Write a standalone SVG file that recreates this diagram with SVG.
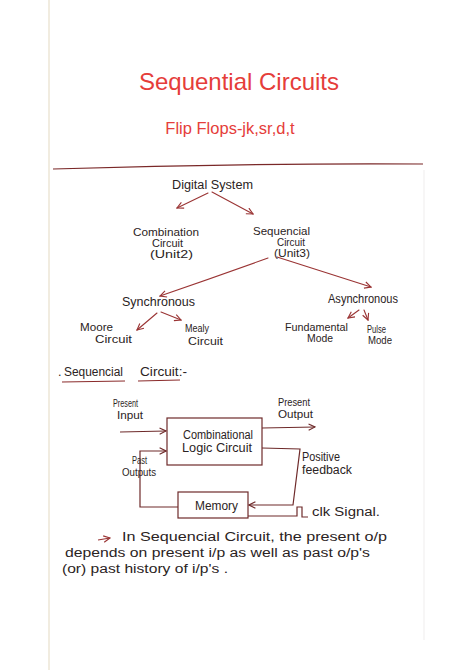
<svg xmlns="http://www.w3.org/2000/svg" width="474" height="670" viewBox="0 0 474 670">
<style>
.title{font-family:"Liberation Sans",Arial,sans-serif;fill:#e53d3a}
.hw{font-family:"Liberation Sans",Arial,sans-serif;font-size:12.5px;fill:#2b2323}
.hs{font-family:"Liberation Sans",Arial,sans-serif;font-size:10.5px;fill:#2b2323}
.ln{fill:none;stroke:#9a3434;stroke-width:1.1;stroke-linecap:round}
.bx{fill:none;stroke:#6e2a2a;stroke-width:1.2}
.ul{fill:none;stroke:#8a2a2a;stroke-width:1}
</style>
<defs>
<marker id="ah" viewBox="0 0 10 10" refX="9" refY="5" markerWidth="8" markerHeight="8" markerUnits="userSpaceOnUse" orient="auto">
<path d="M1,1 L9,5 L1,9" fill="none" stroke="#9a3434" stroke-width="1.4"/>
</marker>
<marker id="ab" viewBox="0 0 10 10" refX="9" refY="5" markerWidth="8" markerHeight="8" markerUnits="userSpaceOnUse" orient="auto">
<path d="M1,1 L9,5 L1,9" fill="none" stroke="#6e2a2a" stroke-width="1.4"/>
</marker>
</defs>
<rect width="474" height="670" fill="#ffffff"/>
<g id="page">
<line x1="49" y1="0" x2="49" y2="670" stroke="#e8e0cc" stroke-width="1.2"/>
<line x1="424" y1="170" x2="424" y2="640" stroke="#efeded" stroke-width="1"/>
<path d="M53,169 Q240,163 423,164" fill="none" stroke="#7a2828" stroke-width="1.2"/>
</g>
<g id="heading">
<text class="title" x="239" y="90" font-size="24" text-anchor="middle">Sequential Circuits</text>
<text class="title" x="230" y="134" font-size="16.5" text-anchor="middle">Flip Flops-jk,sr,d,t</text>
</g>
<g id="connectors">
<path class="ln" d="M208,193 L177,208" marker-end="url(#ah)"/>
<path class="ln" d="M212,192 L253,214" marker-end="url(#ah)"/>
<path class="ln" d="M268,258 Q215,277 160,296" marker-end="url(#ah)"/>
<path class="ln" d="M277,257 L371,287" marker-end="url(#ah)"/>
<path class="ln" d="M157,313 L137,330" marker-end="url(#ah)"/>
<path class="ln" d="M161,312 L181,320" marker-end="url(#ah)"/>
<path class="ln" d="M359,310 L348,318" marker-end="url(#ah)"/>
<path class="ln" d="M364,310 L368,320" marker-end="url(#ah)"/>
<path class="bx" d="M120,432 L166,431" marker-end="url(#ab)"/>
<path class="bx" d="M178,507 L140,507 L140,451 L166,451" marker-end="url(#ab)"/>
<path class="bx" d="M262,428 L315,427" marker-end="url(#ab)"/>
<path class="bx" d="M262,448 L300,449 L293,505 L249,505" marker-end="url(#ab)"/>
<path class="bx" d="M248,516 L289,516 L297,516 L297,507 L302,507 L302,517 L308,517"/>
</g>
<g id="n-digital"><text class="hw" x="172" y="189" textLength="81" lengthAdjust="spacingAndGlyphs">Digital System</text></g>
<g id="n-comb">
<text class="hs" x="133" y="236" textLength="66" lengthAdjust="spacingAndGlyphs">Combination</text>
<text class="hs" x="152" y="247" textLength="31" lengthAdjust="spacingAndGlyphs">Circuit</text>
<text class="hs" x="150" y="258" textLength="43" lengthAdjust="spacingAndGlyphs">(Unit2)</text>
</g>
<g id="n-seq">
<text class="hs" x="253" y="235" textLength="57" lengthAdjust="spacingAndGlyphs">Sequencial</text>
<text class="hs" x="277" y="246" textLength="28" lengthAdjust="spacingAndGlyphs">Circuit</text>
<text class="hs" x="274" y="257" textLength="36" lengthAdjust="spacingAndGlyphs">(Unit3)</text>
</g>
<g id="n-sync"><text class="hw" x="122" y="306" textLength="73" lengthAdjust="spacingAndGlyphs">Synchronous</text></g>
<g id="n-moore">
<text class="hs" x="80" y="331" textLength="33" lengthAdjust="spacingAndGlyphs">Moore</text>
<text class="hs" x="95" y="343" textLength="37" lengthAdjust="spacingAndGlyphs">Circuit</text>
</g>
<g id="n-mealy">
<text class="hs" x="185" y="332" textLength="24" lengthAdjust="spacingAndGlyphs">Mealy</text>
<text class="hs" x="188" y="345" textLength="35" lengthAdjust="spacingAndGlyphs">Circuit</text>
</g>
<g id="n-async"><text class="hw" x="328" y="303" textLength="70" lengthAdjust="spacingAndGlyphs">Asynchronous</text></g>
<g id="n-fund">
<text class="hs" x="285" y="331" textLength="63" lengthAdjust="spacingAndGlyphs">Fundamental</text>
<text class="hs" x="307" y="342" textLength="26" lengthAdjust="spacingAndGlyphs">Mode</text>
</g>
<g id="n-pulse">
<text class="hs" x="367" y="333" textLength="19" lengthAdjust="spacingAndGlyphs">Pulse</text>
<text class="hs" x="368" y="344" textLength="24" lengthAdjust="spacingAndGlyphs">Mode</text>
</g>
<g id="n-heading2">
<text class="hw" x="58" y="376">.</text>
<text class="hw" x="64" y="376" font-size="13.5" textLength="59" lengthAdjust="spacingAndGlyphs">Sequencial</text>
<text class="hw" x="140" y="376" font-size="13.5" textLength="47" lengthAdjust="spacingAndGlyphs">Circuit:-</text>
<path class="ul" d="M62,382 L125,381 M138,381 L180,380"/>
</g>
<g id="n-input">
<text class="hs" x="113" y="407" textLength="25" lengthAdjust="spacingAndGlyphs">Present</text>
<text class="hs" x="117" y="419" textLength="26" lengthAdjust="spacingAndGlyphs">Input</text>
</g>
<g id="n-cl">
<rect class="bx" x="167" y="418" width="95" height="47"/>
<text class="hw" x="183" y="439" textLength="70" lengthAdjust="spacingAndGlyphs">Combinational</text>
<text class="hw" x="182" y="452" textLength="70" lengthAdjust="spacingAndGlyphs">Logic  Circuit</text>
</g>
<g id="n-output">
<text class="hs" x="278" y="406" textLength="32" lengthAdjust="spacingAndGlyphs">Present</text>
<text class="hs" x="278" y="418" textLength="35" lengthAdjust="spacingAndGlyphs">Output</text>
</g>
<g id="n-past">
<text class="hs" x="132" y="464" textLength="15" lengthAdjust="spacingAndGlyphs">Past</text>
<text class="hs" x="122" y="476" textLength="34" lengthAdjust="spacingAndGlyphs">Outputs</text>
</g>
<g id="n-feedback">
<text class="hw" x="302" y="461" textLength="38" lengthAdjust="spacingAndGlyphs">Positive</text>
<text class="hw" x="302" y="474" textLength="50" lengthAdjust="spacingAndGlyphs">feedback</text>
</g>
<g id="n-memory">
<rect class="bx" x="178" y="492" width="70" height="26"/>
<text class="hw" x="195" y="510" textLength="43" lengthAdjust="spacingAndGlyphs">Memory</text>
</g>
<g id="n-clk"><text class="hw" x="312" y="516" textLength="68" lengthAdjust="spacingAndGlyphs">clk Signal.</text></g>
<g id="note">
<path d="M98,540 L110,538" fill="none" stroke="#9a3434" stroke-width="1.1" marker-end="url(#ah)"/>
<text class="hw" x="122" y="541" textLength="265" lengthAdjust="spacingAndGlyphs">In  Sequencial  Circuit,  the  present  o/p</text>
<text class="hw" x="65" y="557" textLength="305" lengthAdjust="spacingAndGlyphs">depends  on  present  i/p  as  well  as  past  o/p's</text>
<text class="hw" x="62" y="573" textLength="166" lengthAdjust="spacingAndGlyphs">(or)  past  history  of  i/p's  .</text>
</g>
</svg>
